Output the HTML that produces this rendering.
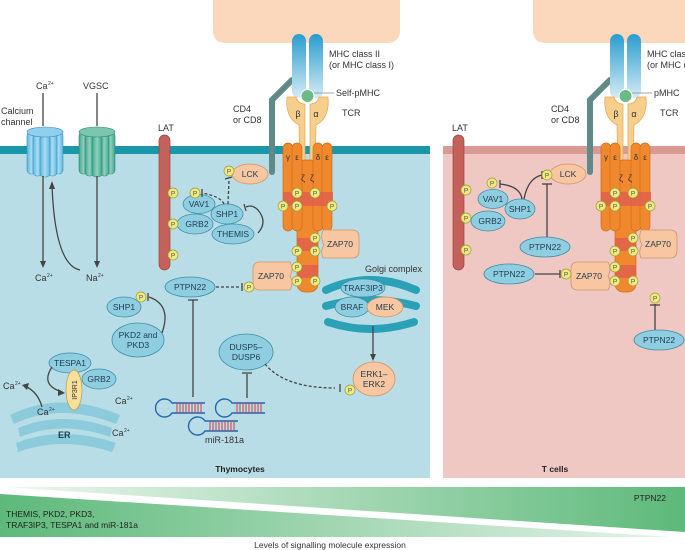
<!DOCTYPE html>
<html><head><meta charset="utf-8"><style>
html,body{margin:0;padding:0;background:#fff;}
svg{display:block;font-family:"Liberation Sans",sans-serif;}
.t{font-size:9px;fill:#333;}
.n{fill:#8fcde0;stroke:#3d8fa8;stroke-width:0.8;}
.pk{fill:#f8c6a0;stroke:#cf946a;stroke-width:0.8;}
.nt{font-size:8.5px;fill:#1e3c50;text-anchor:middle;}
.ln{stroke:#444;stroke-width:1.3;fill:none;}
.ds{stroke:#444;stroke-width:1.3;fill:none;stroke-dasharray:3,2;}
.pc{fill:#eeea80;stroke:#9a9a38;stroke-width:0.7;}
.pt{font-size:6.5px;fill:#555;text-anchor:middle;}
</style></head><body>
<svg width="685" height="550" viewBox="0 0 685 550" xmlns="http://www.w3.org/2000/svg">
<defs>
<linearGradient id="mhc" x1="0" y1="0" x2="0" y2="1"><stop offset="0" stop-color="#2a9ccf"/><stop offset="1" stop-color="#d4ecf5"/></linearGradient>
<linearGradient id="g1" x1="0" y1="0" x2="1" y2="0"><stop offset="0" stop-color="#5db97a"/><stop offset="1" stop-color="#e6f4ea"/></linearGradient>
<linearGradient id="g2" x1="0" y1="0" x2="1" y2="0"><stop offset="0" stop-color="#eef7f0"/><stop offset="1" stop-color="#5db97a"/></linearGradient>
<linearGradient id="ca" x1="0" y1="0" x2="1" y2="0"><stop offset="0" stop-color="#5cb6e0"/><stop offset="0.5" stop-color="#a9dcf2"/><stop offset="1" stop-color="#5cb6e0"/></linearGradient>
<linearGradient id="vg" x1="0" y1="0" x2="1" y2="0"><stop offset="0" stop-color="#3fa58e"/><stop offset="0.5" stop-color="#8fd1bd"/><stop offset="1" stop-color="#3fa58e"/></linearGradient>
</defs>
<!-- panels -->
<rect x="0" y="152" width="430" height="326" fill="#b9dde6"/>
<rect x="0" y="146" width="430" height="8" fill="#1a97a8"/>
<rect x="443" y="152" width="242" height="326" fill="#efc8c4"/>
<rect x="443" y="146" width="242" height="8" fill="#d99a94"/>
<!-- APC -->
<path d="M213,0 L400,0 L400,30 Q400,43 387,43 L226,43 Q213,43 213,30 Z" fill="#fbd8bb"/>
<path d="M533,0 L685,0 L685,43 L546,43 Q533,43 533,30 Z" fill="#fbd8bb"/>

<!-- TCR complex group -->
<g id="tcr">
<path d="M292,80 L272,100 L272,172" stroke="#5f8a88" stroke-width="6" fill="none" stroke-linecap="round"/>
<rect x="292" y="34" width="14" height="64" rx="7" fill="url(#mhc)"/>
<rect x="309" y="34" width="14" height="64" rx="7" fill="url(#mhc)"/>
<path d="M287,97 Q285,118 299,125 L300,180 L305,180 L305,104 Q298,104 296,97 Z" fill="#f6cf8c" stroke="#e2a74c" stroke-width="0.7"/>
<path d="M328,97 Q330,118 316,125 L315,180 L310,180 L310,104 Q317,104 319,97 Z" fill="#f6cf8c" stroke="#e2a74c" stroke-width="0.7"/>
<circle cx="307.5" cy="96" r="6.5" fill="#6cba86" stroke="#fff" stroke-width="1"/>
<rect x="297" y="160" width="21" height="132" rx="8" fill="#f0892e" stroke="#d56a16" stroke-width="0.7"/>
<rect x="283" y="143" width="10" height="88" rx="5" fill="#f0892e" stroke="#d56a16" stroke-width="0.7"/>
<rect x="292" y="143" width="10" height="88" rx="5" fill="#f0892e" stroke="#d56a16" stroke-width="0.7"/>
<rect x="313" y="143" width="10" height="88" rx="5" fill="#f0892e" stroke="#d56a16" stroke-width="0.7"/>
<rect x="322" y="143" width="10" height="88" rx="5" fill="#f0892e" stroke="#d56a16" stroke-width="0.7"/>
<rect x="283" y="192" width="50" height="14" fill="#e2604c" opacity="0.85"/>
<rect x="297" y="238" width="21" height="13" fill="#e2604c" opacity="0.85"/>
<rect x="297" y="265" width="21" height="13" fill="#e2604c" opacity="0.85"/>
<text x="288" y="160" font-size="8" fill="#333" text-anchor="middle">γ</text>
<text x="297" y="160" font-size="8" fill="#333" text-anchor="middle">ε</text>
<text x="318" y="160" font-size="8" fill="#333" text-anchor="middle">δ</text>
<text x="327" y="160" font-size="8" fill="#333" text-anchor="middle">ε</text>
<text x="303" y="181" font-size="9" fill="#333" text-anchor="middle">ζ</text>
<text x="312" y="181" font-size="9" fill="#333" text-anchor="middle">ζ</text>
<text x="298" y="117" font-size="9" fill="#333" text-anchor="middle">β</text>
<text x="316" y="117" font-size="9" fill="#333" text-anchor="middle">α</text>
<g>
<circle class="pc" cx="297" cy="193" r="5"/><text class="pt" x="297" y="195.5">P</text>
<circle class="pc" cx="315" cy="193" r="5"/><text class="pt" x="315" y="195.5">P</text>
<circle class="pc" cx="283" cy="206" r="5"/><text class="pt" x="283" y="208.5">P</text>
<circle class="pc" cx="297" cy="206" r="5"/><text class="pt" x="297" y="208.5">P</text>
<circle class="pc" cx="332" cy="206" r="5"/><text class="pt" x="332" y="208.5">P</text>
<circle class="pc" cx="315" cy="238" r="5"/><text class="pt" x="315" y="240.5">P</text>
<circle class="pc" cx="297" cy="251" r="5"/><text class="pt" x="297" y="253.5">P</text>
<circle class="pc" cx="315" cy="251" r="5"/><text class="pt" x="315" y="253.5">P</text>
<circle class="pc" cx="297" cy="267" r="5"/><text class="pt" x="297" y="269.5">P</text>
<circle class="pc" cx="297" cy="281" r="5"/><text class="pt" x="297" y="283.5">P</text>
<circle class="pc" cx="315" cy="281" r="5"/><text class="pt" x="315" y="283.5">P</text>
</g>
<path class="pk" d="M323,230 L352,230 Q359,230 359,237 L359,251 Q359,258 352,258 L323,258 Q320,251 324,245 Q320,238 323,230 Z"/>
<text class="nt" x="340" y="247">ZAP70</text>
<path class="pk" d="M260,262 L290,262 Q294,270 290,276 Q294,283 290,290 L260,290 Q253,290 253,283 L253,269 Q253,262 260,262 Z"/>
<text class="nt" x="271" y="279">ZAP70</text>
<ellipse class="pk" cx="250" cy="174" rx="18" ry="10"/><text class="nt" x="250" y="177">LCK</text>
</g>

<!-- right copy of TCR complex -->
<g transform="translate(318,0)">
<path d="M292,80 L272,100 L272,172" stroke="#5f8a88" stroke-width="6" fill="none" stroke-linecap="round"/>
<rect x="292" y="34" width="14" height="64" rx="7" fill="url(#mhc)"/>
<rect x="309" y="34" width="14" height="64" rx="7" fill="url(#mhc)"/>
<path d="M287,97 Q285,118 299,125 L300,180 L305,180 L305,104 Q298,104 296,97 Z" fill="#f6cf8c" stroke="#e2a74c" stroke-width="0.7"/>
<path d="M328,97 Q330,118 316,125 L315,180 L310,180 L310,104 Q317,104 319,97 Z" fill="#f6cf8c" stroke="#e2a74c" stroke-width="0.7"/>
<circle cx="307.5" cy="96" r="6.5" fill="#6cba86" stroke="#fff" stroke-width="1"/>
<rect x="297" y="160" width="21" height="132" rx="8" fill="#f0892e" stroke="#d56a16" stroke-width="0.7"/>
<rect x="283" y="143" width="10" height="88" rx="5" fill="#f0892e" stroke="#d56a16" stroke-width="0.7"/>
<rect x="292" y="143" width="10" height="88" rx="5" fill="#f0892e" stroke="#d56a16" stroke-width="0.7"/>
<rect x="313" y="143" width="10" height="88" rx="5" fill="#f0892e" stroke="#d56a16" stroke-width="0.7"/>
<rect x="322" y="143" width="10" height="88" rx="5" fill="#f0892e" stroke="#d56a16" stroke-width="0.7"/>
<rect x="283" y="192" width="50" height="14" fill="#e2604c" opacity="0.85"/>
<rect x="297" y="238" width="21" height="13" fill="#e2604c" opacity="0.85"/>
<rect x="297" y="265" width="21" height="13" fill="#e2604c" opacity="0.85"/>
<text x="288" y="160" font-size="8" fill="#333" text-anchor="middle">γ</text>
<text x="297" y="160" font-size="8" fill="#333" text-anchor="middle">ε</text>
<text x="318" y="160" font-size="8" fill="#333" text-anchor="middle">δ</text>
<text x="327" y="160" font-size="8" fill="#333" text-anchor="middle">ε</text>
<text x="303" y="181" font-size="9" fill="#333" text-anchor="middle">ζ</text>
<text x="312" y="181" font-size="9" fill="#333" text-anchor="middle">ζ</text>
<text x="298" y="117" font-size="9" fill="#333" text-anchor="middle">β</text>
<text x="316" y="117" font-size="9" fill="#333" text-anchor="middle">α</text>
<circle class="pc" cx="297" cy="193" r="5"/><text class="pt" x="297" y="195.5">P</text>
<circle class="pc" cx="315" cy="193" r="5"/><text class="pt" x="315" y="195.5">P</text>
<circle class="pc" cx="283" cy="206" r="5"/><text class="pt" x="283" y="208.5">P</text>
<circle class="pc" cx="297" cy="206" r="5"/><text class="pt" x="297" y="208.5">P</text>
<circle class="pc" cx="332" cy="206" r="5"/><text class="pt" x="332" y="208.5">P</text>
<circle class="pc" cx="315" cy="238" r="5"/><text class="pt" x="315" y="240.5">P</text>
<circle class="pc" cx="297" cy="251" r="5"/><text class="pt" x="297" y="253.5">P</text>
<circle class="pc" cx="315" cy="251" r="5"/><text class="pt" x="315" y="253.5">P</text>
<circle class="pc" cx="297" cy="267" r="5"/><text class="pt" x="297" y="269.5">P</text>
<circle class="pc" cx="297" cy="281" r="5"/><text class="pt" x="297" y="283.5">P</text>
<circle class="pc" cx="315" cy="281" r="5"/><text class="pt" x="315" y="283.5">P</text>
<path class="pk" d="M323,230 L352,230 Q359,230 359,237 L359,251 Q359,258 352,258 L323,258 Q320,251 324,245 Q320,238 323,230 Z"/>
<text class="nt" x="340" y="247">ZAP70</text>
<path class="pk" d="M260,262 L290,262 Q294,270 290,276 Q294,283 290,290 L260,290 Q253,290 253,283 L253,269 Q253,262 260,262 Z"/>
<text class="nt" x="271" y="279">ZAP70</text>
<ellipse class="pk" cx="250" cy="174" rx="18" ry="10"/><text class="nt" x="250" y="177">LCK</text>
</g>

<!-- labels top -->
<text class="t" x="329" y="57">MHC class II</text>
<text class="t" x="329" y="68">(or MHC class I)</text>
<line x1="314" y1="93" x2="334" y2="93" stroke="#888" stroke-width="0.7"/>
<text class="t" x="336" y="96">Self-pMHC</text>
<text class="t" x="342" y="116">TCR</text>
<text class="t" x="233" y="112">CD4</text><text class="t" x="233" y="123">or CD8</text>
<text class="t" x="158" y="131">LAT</text>
<text class="t" x="647" y="57">MHC class II</text>
<text class="t" x="647" y="68">(or MHC class I)</text>
<line x1="632" y1="93" x2="652" y2="93" stroke="#888" stroke-width="0.7"/>
<text class="t" x="654" y="96">pMHC</text>
<text class="t" x="660" y="116">TCR</text>
<text class="t" x="551" y="112">CD4</text><text class="t" x="551" y="123">or CD8</text>
<text class="t" x="452" y="131">LAT</text>

<!-- channels -->
<text class="t" x="36" y="89">Ca</text><text x="48" y="85" font-size="5" fill="#333">2+</text>
<text class="t" x="83" y="89">VGSC</text>
<text class="t" x="1" y="114">Calcium</text><text class="t" x="1" y="125">channel</text>
<g fill="url(#ca)" stroke="#3b8fbf" stroke-width="0.6">
<rect x="27" y="132" width="9" height="42" rx="4"/><rect x="54" y="132" width="9" height="42" rx="4"/>
<rect x="33" y="134" width="9" height="42" rx="4"/><rect x="48" y="134" width="9" height="42" rx="4"/>
<rect x="40" y="135" width="10" height="42" rx="4"/>
</g>
<ellipse cx="45" cy="132" rx="18" ry="5" fill="#8fd0ee" stroke="#3b8fbf" stroke-width="0.6"/>
<g fill="url(#vg)" stroke="#2f8a75" stroke-width="0.6">
<rect x="79" y="132" width="9" height="42" rx="4"/><rect x="106" y="132" width="9" height="42" rx="4"/>
<rect x="85" y="134" width="9" height="42" rx="4"/><rect x="100" y="134" width="9" height="42" rx="4"/>
<rect x="92" y="135" width="10" height="42" rx="4"/>
</g>
<ellipse cx="97" cy="132" rx="18" ry="5" fill="#7cc6b0" stroke="#2f8a75" stroke-width="0.6"/>
<line class="ln" x1="43" y1="93" x2="43" y2="126"/>
<line class="ln" x1="97" y1="93" x2="97" y2="126"/>
<line class="ln" x1="43" y1="176" x2="43" y2="265"/><path d="M40,261 L43,268 L46,261Z" fill="#444"/>
<line class="ln" x1="97" y1="176" x2="97" y2="265"/><path d="M94,261 L97,268 L100,261Z" fill="#444"/>
<path class="ln" d="M80,270 Q55,265 52,185"/><path d="M49,189 L52,181 L55,189Z" fill="#444"/>
<text class="t" x="35" y="281">Ca</text><text x="47" y="277" font-size="5" fill="#333">2+</text>
<text class="t" x="86" y="281">Na</text><text x="98" y="277" font-size="5" fill="#333">2+</text>

<!-- LAT -->
<rect x="159" y="135" width="11" height="135" rx="5.5" fill="#c4615a" stroke="#9a4540" stroke-width="0.7"/>
<rect x="453" y="135" width="11" height="135" rx="5.5" fill="#c4615a" stroke="#9a4540" stroke-width="0.7"/>

<!-- left signalling cluster -->
<ellipse class="n" cx="233" cy="234" rx="21" ry="10"/><text class="nt" x="233" y="237">THEMIS</text>
<ellipse class="n" cx="195" cy="224" rx="18" ry="10"/><text class="nt" x="197" y="227">GRB2</text>
<ellipse class="n" cx="199" cy="204" rx="16" ry="9.5"/><text class="nt" x="199" y="207">VAV1</text>
<ellipse class="n" cx="227" cy="214" rx="16" ry="10"/><text class="nt" x="227" y="217">SHP1</text>
<path class="ln" d="M258,233 Q268,222 258,210 Q252,204 246,207"/><line class="ln" x1="244" y1="204" x2="246" y2="211"/>
<path class="ds" d="M224,204 Q220,196 202,193"/><line class="ln" x1="202" y1="189" x2="202" y2="197"/>
<path class="ds" d="M228,204 L229,180"/><line class="ln" x1="225" y1="179" x2="232" y2="177"/>
<circle class="pc" cx="195" cy="193" r="5"/><text class="pt" x="195" y="195.5">P</text>
<circle class="pc" cx="229" cy="171" r="5"/><text class="pt" x="229" y="173.5">P</text>
<circle class="pc" cx="173" cy="193" r="5"/><text class="pt" x="173" y="195.5">P</text>
<circle class="pc" cx="173" cy="224" r="5"/><text class="pt" x="173" y="226.5">P</text>
<circle class="pc" cx="173" cy="255" r="5"/><text class="pt" x="173" y="257.5">P</text>

<!-- PTPN22 left -->
<ellipse class="n" cx="190" cy="287" rx="25" ry="10"/><text class="nt" x="190" y="290">PTPN22</text>
<line class="ds" x1="216" y1="287" x2="240" y2="287"/><line class="ln" x1="242" y1="283" x2="242" y2="291"/>
<circle class="pc" cx="249" cy="287" r="5"/><text class="pt" x="249" y="289.5">P</text>
<line class="ln" x1="193" y1="300" x2="193" y2="397"/><line class="ln" x1="188" y1="300" x2="198" y2="300"/>
<ellipse class="n" cx="124" cy="307" rx="17" ry="10"/><text class="nt" x="124" y="310">SHP1</text>
<circle class="pc" cx="141" cy="297" r="5"/><text class="pt" x="141" y="299.5">P</text>
<line class="ln" x1="148" y1="293" x2="148" y2="301"/>
<path class="ln" d="M149,297 Q172,305 162,333"/>
<ellipse class="n" cx="138" cy="340" rx="26" ry="17"/><text class="nt" x="138" y="338">PKD2 and</text><text class="nt" x="138" y="348">PKD3</text>

<!-- DUSP & miR -->
<ellipse class="n" cx="246" cy="352" rx="27" ry="18"/><text class="nt" x="246" y="350">DUSP5–</text><text class="nt" x="246" y="360">DUSP6</text>
<line class="ln" x1="247" y1="374" x2="247" y2="398"/><line class="ln" x1="242" y1="373" x2="252" y2="373"/>
<path class="ds" d="M265,364 Q285,388 335,388"/><line class="ln" x1="340" y1="384" x2="340" y2="392"/>
<circle class="pc" cx="350" cy="390" r="5"/><text class="pt" x="350" y="392.5">P</text>
<g fill="none" stroke="#2167b0" stroke-width="1.4">
<path d="M205,403 L172,403 A9,9 0 1 0 172,413 L205,413"/>
<path d="M265,403 L232,403 A9,9 0 1 0 232,413 L265,413"/>
<path d="M238,421 L205,421 A9,9 0 1 0 205,431 L238,431"/>
</g>
<g stroke="#d13c46" stroke-width="1">
<path d="M177,403v10M180,403v10M183,403v10M186,403v10M189,403v10M192,403v10M195,403v10M198,403v10M201,403v10"/>
<path d="M237,403v10M240,403v10M243,403v10M246,403v10M249,403v10M252,403v10M255,403v10M258,403v10M261,403v10"/>
<path d="M210,421v10M213,421v10M216,421v10M219,421v10M222,421v10M225,421v10M228,421v10M231,421v10M234,421v10"/>
</g>
<text class="t" x="205" y="443">miR-181a</text>

<!-- Golgi -->
<g fill="none" stroke="#2ba1b8" stroke-width="8" stroke-linecap="round">
<path d="M326,290 Q370,270 416,290"/>
<path d="M326,306 Q370,294 416,306"/>
<path d="M328,322 Q370,336 414,322"/>
</g>
<text class="t" x="365" y="272">Golgi complex</text>
<ellipse class="n" cx="363" cy="288" rx="22" ry="9"/><text class="nt" x="363" y="291">TRAF3IP3</text>
<ellipse class="n" cx="352" cy="307" rx="17" ry="10"/><text class="nt" x="352" y="310">BRAF</text>
<ellipse class="pk" cx="385" cy="307" rx="18" ry="10"/><text class="nt" x="385" y="310">MEK</text>
<line class="ln" x1="373" y1="326" x2="373" y2="356"/><path d="M370,354 L373,361 L376,354Z" fill="#444"/>
<ellipse class="pk" cx="374" cy="379" rx="21" ry="17"/><text class="nt" x="374" y="377">ERK1–</text><text class="nt" x="374" y="387">ERK2</text>

<!-- ER -->
<g fill="#8ccbdc">
<path d="M10,415 Q60,390 120,415 L116,424 Q60,402 14,424 Z"/>
<path d="M18,428 Q62,410 112,428 L110,437 Q62,420 20,437 Z"/>
<path d="M16,443 Q62,425 116,443 L112,452 Q62,436 18,452 Z"/>
</g>
<text x="58" y="438" font-size="9" font-weight="bold" fill="#1e3c50">ER</text>
<ellipse class="n" cx="70" cy="363" rx="21" ry="10"/><text class="nt" x="70" y="366">TESPA1</text>
<ellipse class="n" cx="99" cy="379" rx="17" ry="10"/><text class="nt" x="99" y="382">GRB2</text>
<ellipse cx="74" cy="390" rx="8" ry="20" fill="#f6e09a" stroke="#b89a4a" stroke-width="0.7"/>
<text x="77" y="390" font-size="7" fill="#333" text-anchor="middle" transform="rotate(-90 77 390)">IP3R1</text>
<path class="ln" d="M52,367 Q40,385 62,392"/><path d="M58,389 L65,393 L58,396Z" fill="#444"/>
<path class="ln" d="M42,407 Q38,392 25,386"/><path d="M29,383 L22,385 L27,390Z" fill="#444"/>
<text class="t" x="3" y="389">Ca</text><text x="15" y="385" font-size="5" fill="#333">2+</text>
<text class="t" x="37" y="415">Ca</text><text x="49" y="411" font-size="5" fill="#333">2+</text>
<text class="t" x="115" y="404">Ca</text><text x="127" y="400" font-size="5" fill="#333">2+</text>
<text class="t" x="112" y="436">Ca</text><text x="124" y="432" font-size="5" fill="#333">2+</text>

<!-- right cluster -->
<ellipse class="n" cx="488" cy="221" rx="17" ry="10"/><text class="nt" x="490" y="224">GRB2</text>
<ellipse class="n" cx="493" cy="199" rx="15" ry="9.5"/><text class="nt" x="493" y="202">VAV1</text>
<ellipse class="n" cx="520" cy="209" rx="15" ry="10"/><text class="nt" x="520" y="212">SHP1</text>
<path class="ln" d="M522,199 Q520,186 500,184"/><line class="ln" x1="500" y1="180" x2="500" y2="188"/>
<circle class="pc" cx="492" cy="183" r="5"/><text class="pt" x="492" y="185.5">P</text>
<path class="ln" d="M524,199 Q528,178 542,175"/><line class="ln" x1="542" y1="171" x2="542" y2="179"/>
<circle class="pc" cx="547" cy="175" r="5"/><text class="pt" x="547" y="177.5">P</text>
<circle class="pc" cx="466" cy="190" r="5"/><text class="pt" x="466" y="192.5">P</text>
<circle class="pc" cx="466" cy="218" r="5"/><text class="pt" x="466" y="220.5">P</text>
<circle class="pc" cx="466" cy="250" r="5"/><text class="pt" x="466" y="252.5">P</text>
<ellipse class="n" cx="545" cy="247" rx="25" ry="10"/><text class="nt" x="545" y="250">PTPN22</text>
<line class="ln" x1="547" y1="237" x2="547" y2="184"/><line class="ln" x1="542" y1="184" x2="552" y2="184"/>
<ellipse class="n" cx="509" cy="274" rx="25" ry="10"/><text class="nt" x="509" y="277">PTPN22</text>
<line class="ln" x1="535" y1="274" x2="560" y2="274"/><line class="ln" x1="560" y1="270" x2="560" y2="278"/>
<circle class="pc" cx="566" cy="274" r="5"/><text class="pt" x="566" y="276.5">P</text>
<circle class="pc" cx="655" cy="298" r="5"/><text class="pt" x="655" y="300.5">P</text>
<line class="ln" x1="655" y1="304" x2="655" y2="330"/><line class="ln" x1="650" y1="305" x2="660" y2="305"/>
<ellipse class="n" cx="659" cy="340" rx="25" ry="10"/><text class="nt" x="659" y="343">PTPN22</text>

<text x="240" y="472" font-size="8.5" font-weight="bold" fill="#222" text-anchor="middle">Thymocytes</text>
<text x="555" y="472" font-size="8.5" font-weight="bold" fill="#222" text-anchor="middle">T cells</text>

<!-- bottom wedge -->
<rect x="0" y="487" width="685" height="51" fill="#fff"/>
<polygon points="0,494 0,537 672,537" fill="url(#g1)"/>
<polygon points="5,487 685,487 685,532" fill="url(#g2)"/>
<text x="666" y="501" font-size="8.5" fill="#222" text-anchor="end">PTPN22</text>
<text x="6" y="517" font-size="8.5" fill="#222">THEMIS, PKD2, PKD3,</text>
<text x="6" y="528" font-size="8.5" fill="#222">TRAF3IP3, TESPA1 and miR-181a</text>
<text x="330" y="548" font-size="8.5" fill="#333" text-anchor="middle">Levels of signalling molecule expression</text>
</svg>
</body></html>
